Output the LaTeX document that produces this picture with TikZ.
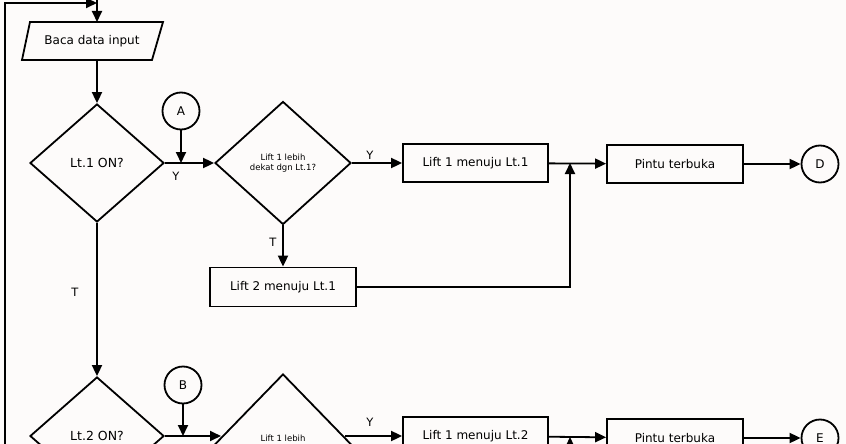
\documentclass[tikz,border=0pt]{standalone}
\usepackage{fontspec}
\setmainfont{DejaVu Sans}
\usetikzlibrary{shapes.geometric,arrows.meta}
\begin{document}
\begin{tikzpicture}[x=1pt,y=-1pt,
  line width=1.8pt,
  arr/.style={-{Triangle[length=11pt,width=10pt]}},
  dec/.style={draw,diamond,minimum width=134pt,minimum height=118pt,inner sep=0pt,align=center},
  proc/.style={draw,rectangle,minimum width=145pt,minimum height=38pt,font=\fontsize{12}{14}\selectfont},
  conn/.style={draw,circle,minimum size=37pt,inner sep=0pt,font=\fontsize{12}{14}\selectfont},
  lbl/.style={font=\fontsize{11.5}{13}\selectfont}]
\fill[white!93!brown!40!white] (0,0) rectangle (846,444);
\useasboundingbox (0,0) rectangle (846,444);
\clip (0,0) rectangle (846,444);
\draw (30,22) -- (163,22) -- (152,60) -- (22,60) -- cycle;
\node[font=\fontsize{12}{14}\selectfont] (in) at (92,41) {Baca data input};
\node[dec,font=\fontsize{12.5}{14}\selectfont] (d1) at (97,163) {Lt.1 ON?};
\node[dec,minimum width=136pt,minimum height=123pt,font=\fontsize{8.5}{10}\selectfont] (d2) at (283,163) {Lift 1 lebih\\dekat dgn Lt.1?};
\node[conn] (A) at (181,111) {A};
\node[proc] (p1) at (475.5,163) {Lift 1 menuju Lt.1};
\node[proc,minimum width=136pt] (o1) at (675,164) {Pintu terbuka};
\node[conn] (D) at (820,164) {D};
\node[proc,minimum width=146pt,minimum height=39pt] (l2) at (283,287) {Lift 2 menuju Lt.1};
\node[dec,font=\fontsize{12.5}{14}\selectfont] (d3) at (97,436) {Lt.2 ON?};
\node[dec,minimum width=136pt,minimum height=140pt,font=\fontsize{8.5}{10}\selectfont] (d4) at (283,444) {Lift 1 lebih\\dekat dgn Lt.2?};
\node[conn] (B) at (183,385) {B};
\node[proc] (p2) at (475.5,436) {Lift 1 menuju Lt.2};
\node[proc,minimum width=136pt] (o2) at (675,438) {Pintu terbuka};
\node[conn] (E) at (820,438) {E};
\coordinate (top) at (97,0);
\coordinate (intop) at (97,22);
\coordinate (inbot) at (97,60);
\coordinate (loopb) at (5,444);
\coordinate (loopt) at (5,3);
\coordinate (loopr) at (97,3);
\coordinate (j1) at (181,163);
\coordinate (m1) at (570,163);
\coordinate (c1) at (570,287);
\coordinate (j2) at (183,436);
\coordinate (d4in) at (221,436);
\coordinate (d4out) at (345,436);
\coordinate (c2) at (570,444);
\draw[arr] (loopb) -- (loopt) -- (loopr);
\draw[arr] (top) -- (intop);
\draw[arr] (inbot) -- (d1);
\draw[arr] (d1) -- (d2);
\draw[arr] (A) -- (j1);
\node[lbl] at (176,176) {Y};
\draw[arr] (d2) -- (p1);
\node[lbl] at (370,155) {Y};
\draw[arr] (p1) -- (o1);
\draw[arr] (o1) -- (D);
\draw[arr] (d2) -- (l2);
\node[lbl] at (273,242) {T};
\draw[arr] (l2.east) -- (c1) -- (m1);
\draw[arr] (d1) -- (d3);
\node[lbl] at (75,292) {T};
\draw[arr] (d3.east) -- (d4in);
\draw[arr] (B) -- (j2);
\draw[arr] (d4out) -- (p2);
\node[lbl] at (370,422) {Y};
\draw[arr] (p2) -- (o2);
\draw[arr] (o2) -- (E);
\draw[arr] (c2) -- (570,437);
\end{tikzpicture}
\end{document}
